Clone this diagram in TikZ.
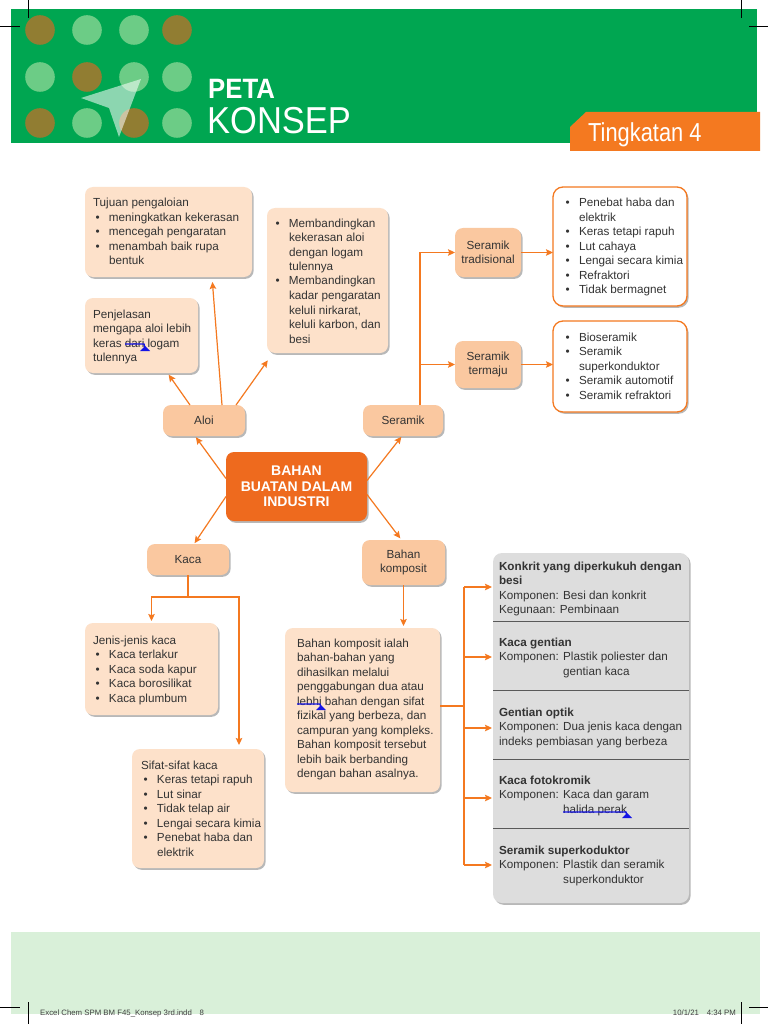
\documentclass[tikz,border=0pt]{standalone}
\usepackage{fontspec}
\setmainfont{Liberation Sans}
\usetikzlibrary{shadows,arrows.meta,calc}
\definecolor{bandG}{HTML}{00A651}
\definecolor{dotB}{HTML}{917D32}
\definecolor{dotG}{HTML}{6CCC86}
\definecolor{orangeL}{HTML}{F47920}
\definecolor{orangeD}{HTML}{EE6A1E}
\definecolor{peachL}{HTML}{FDE1CA}
\definecolor{peachD}{HTML}{FAC8A0}
\definecolor{greyT}{HTML}{DDDDDD}
\definecolor{txtgray}{HTML}{333333}
\definecolor{footG}{HTML}{D9F0D9}
\definecolor{markB}{HTML}{1414E6}
\newcommand\itm{\par\noindent\makebox[16pt][l]{\hspace{2.5pt}\textbullet}}
\newcommand\cl{\\\hspace*{16pt}}
\newcommand\ph{\phantom{Komponen: }}
\tikzset{
  pbox/.style={fill=peachL, rounded corners=8pt, inner sep=0pt, outer sep=0pt,
    drop shadow={shadow xshift=1.6pt, shadow yshift=-1.8pt, opacity=0.28, fill=black}},
  sbox/.style={pbox, fill=peachD, text=txtgray, align=center,
    font=\fontsize{11.7}{14.5}\selectfont},
  lbox/.style={pbox, fill=white, draw=orangeL, line width=1.3pt, rounded corners=10pt},
  cbox/.style={pbox, fill=orangeD, text=white, align=center,
    font=\fontsize{14}{15.5}\selectfont\bfseries},
  tbox/.style={pbox, fill=greyT, rounded corners=9pt},
  txt/.style={anchor=base west, inner sep=0pt, outer sep=0pt, text=txtgray,
    font=\fontsize{11.7}{14.5}\selectfont},
  ln/.style={draw=orangeL, line width=1.2pt},
  arr/.style={ln, -{Stealth[length=7pt,width=6.5pt,inset=1.2pt]}},
  divider/.style={draw=black!65, line width=1pt},
  crop/.style={draw=black, line width=0.6pt},
  proofmark/.style={draw=markB, line width=1.4pt},
}
\begin{document}
\begin{tikzpicture}[x=1pt,y=-1pt]
\useasboundingbox (0,0) rectangle (768,1024);
\fill[white] (0,0) rectangle (768,1024);

% ---------- header ----------
\fill[bandG] (11,9) rectangle (757,143);
\foreach \x/\y/\c in {40/30/dotB,87/30/dotG,134/30/dotG,177/30/dotB,
                      40/77/dotG,87/77/dotB,134/77/dotG,177/77/dotG,
                      40/123/dotB,87/123/dotG,134/123/dotB,177/123/dotG}
  \fill[\c] (\x,\y) circle[radius=14.8];
\fill[white, opacity=0.55] (81,98) -- (141,79) -- (119,137) -- (109,108) -- cycle;
\node[anchor=base west, inner sep=0pt, text=white, font=\fontsize{28}{28}\selectfont\bfseries]
  (peta) at (208,99) {\scalebox{0.92}[1]{PETA}};
\node[anchor=base west, inner sep=0pt, text=white, font=\fontsize{37.5}{37.5}\selectfont]
  (konsep) at (207,134) {\scalebox{0.92}[1]{KONSEP}};
\fill[orangeL] (586,112) -- (760,112) -- (760,151) -- (570,151) -- (570,127) -- cycle;
\node[anchor=base west, inner sep=0pt, text=white, font=\fontsize{26}{26}\selectfont]
  (tingkatan) at (588,142) {\scalebox{0.84}[1]{Tingkatan 4}};

% crop marks
\draw[crop] (28,0) -- (28,18);
\draw[crop] (0,26) -- (20,26);
\draw[crop] (741,0) -- (741,18);
\draw[crop] (749,26) -- (768,26);

% ---------- footer ----------
\fill[footG] (11,932) rectangle (760,1014);
\draw[crop] (0,1007) -- (20,1007);
\draw[crop] (28,1002) -- (28,1024);
\draw[crop] (749,1007) -- (768,1007);
\draw[crop] (741,1002) -- (741,1024);
\node[anchor=base west, inner sep=0pt, text=black!75, font=\fontsize{7.8}{8}\selectfont]
  (foot1) at (40,1015) {Excel Chem SPM BM F45\_Konsep 3rd.indd\quad 8};
\node[anchor=base east, inner sep=0pt, text=black!75, font=\fontsize{7.8}{8}\selectfont]
  (foot2) at (736,1015) {10/1/21\quad 4:34 PM};

% ---------- boxes ----------
\node[pbox, minimum width=167, minimum height=90] (tujuan) at (168.5,232) {};
\node[pbox, minimum width=113, minimum height=75] (penj) at (141.5,335.5) {};
\node[pbox, minimum width=121, minimum height=145] (memb) at (327.5,280.5) {};
\node[sbox, minimum width=82, minimum height=31] (aloi) at (204,420.5) {Aloi};
\node[sbox, minimum width=80, minimum height=31] (seramik) at (403,420.5) {Seramik};
\node[cbox, minimum width=141, minimum height=69] (central) at (296.5,486.5) {BAHAN\\BUATAN DALAM\\INDUSTRI};
\node[sbox, minimum width=82, minimum height=31] (kaca) at (188,559.5) {Kaca};
\node[sbox, minimum width=83, minimum height=45] (komp) at (403.5,562.5) {Bahan\\komposit};
\node[pbox, minimum width=133, minimum height=92] (jenis) at (151.5,669) {};
\node[pbox, minimum width=132, minimum height=119] (sifat) at (198,808.5) {};
\node[pbox, minimum width=155, minimum height=164] (desc) at (362.5,710) {};
\node[tbox, minimum width=196, minimum height=350] (tbl) at (591,728) {};
\node[sbox, minimum width=66, minimum height=49] (sertrad) at (488,252.5) {Seramik\\tradisional};
\node[sbox, minimum width=66, minimum height=47] (serterm) at (488,364.5) {Seramik\\termaju};
\node[lbox, minimum width=134, minimum height=119] (list1) at (620,246.5) {};
\node[lbox, minimum width=134, minimum height=91] (list2) at (620,366.5) {};

% table dividers
\foreach \yy in {621,690,759,828} \draw[divider] (493,\yy) -- (689,\yy);

% ---------- texts ----------
\node[txt] (tujuanT) at (93,207) {\parbox[t]{200pt}{\raggedright
  Tujuan pengaloian\itm meningkatkan kekerasan\itm mencegah pengaratan\itm menambah baik rupa\cl bentuk}};
\node[txt] (penjT) at (93,318) {\parbox[t]{200pt}{\raggedright
  Penjelasan\\mengapa aloi lebih\\keras dari logam\\tulennya}};
\node[txt] (membT) at (273,227) {\parbox[t]{200pt}{\raggedright
  \itm Membandingkan\cl kekerasan aloi\cl dengan logam\cl tulennya\itm Membandingkan\cl kadar pengaratan\cl keluli nirkarat,\cl keluli karbon, dan\cl besi}};
\node[txt] (list1T) at (563,207) {\parbox[t]{200pt}{\raggedright
  \itm Penebat haba dan\cl elektrik\itm Keras tetapi rapuh\itm Lut cahaya\itm Lengai secara kimia\itm Refraktori\itm Tidak bermagnet}};
\node[txt] (list2T) at (563,341) {\parbox[t]{200pt}{\raggedright
  \itm Bioseramik\itm Seramik\cl superkonduktor\itm Seramik automotif\itm Seramik refraktori}};
\node[txt] (jenisT) at (93,644) {\parbox[t]{200pt}{\raggedright
  Jenis-jenis kaca\itm Kaca terlakur\itm Kaca soda kapur\itm Kaca borosilikat\itm Kaca plumbum}};
\node[txt] (sifatT) at (141,769) {\parbox[t]{200pt}{\raggedright
  Sifat-sifat kaca\itm Keras tetapi rapuh\itm Lut sinar\itm Tidak telap air\itm Lengai secara kimia\itm Penebat haba dan\cl elektrik}};
\node[txt] (descT) at (297,647) {\parbox[t]{200pt}{\raggedright
  Bahan komposit ialah\\bahan-bahan yang\\dihasilkan melalui\\penggabungan dua atau\\lebhi bahan dengan sifat\\fizikal yang berbeza, dan\\campuran yang kompleks.\\Bahan komposit tersebut\\lebih baik berbanding\\dengan bahan asalnya.}};
\node[txt] (row1T) at (499,570) {\parbox[t]{200pt}{\raggedright
  \textbf{Konkrit yang diperkukuh dengan}\\\textbf{besi}\\Komponen: Besi dan konkrit\\Kegunaan: Pembinaan}};
\node[txt] (row2T) at (499,646) {\parbox[t]{200pt}{\raggedright
  \textbf{Kaca gentian}\\Komponen: Plastik poliester dan\\\ph gentian kaca}};
\node[txt] (row3T) at (499,716) {\parbox[t]{200pt}{\raggedright
  \textbf{Gentian optik}\\Komponen: Dua jenis kaca dengan\\indeks pembiasan yang berbeza}};
\node[txt] (row4T) at (499,784) {\parbox[t]{200pt}{\raggedright
  \textbf{Kaca fotokromik}\\Komponen: Kaca dan garam\\\ph halida perak}};
\node[txt] (row5T) at (499,854) {\parbox[t]{200pt}{\raggedright
  \textbf{Seramik superkoduktor}\\Komponen: Plastik dan seramik\\\ph superkonduktor}};

% ---------- connectors ----------
\draw[arr, shorten >=1.5pt] ([yshift=8pt]central.west) -- ([xshift=-9pt]aloi.south);
\draw[arr, shorten >=1pt] ([yshift=6pt]central.east) -- ([xshift=-1pt]seramik.south);
\draw[arr, shorten >=1pt] ([yshift=-10pt]central.west) -- ([xshift=6pt]kaca.north);
\draw[arr, shorten >=2pt] ([yshift=-8pt]central.east) -- ([xshift=-2pt]komp.north);

\draw[arr, shorten >=2pt] ([xshift=-14pt]aloi.north) -- ([xshift=26pt]penj.south);
\draw[arr, shorten >=5pt] ([xshift=18pt]aloi.north) -- ([xshift=43.5pt]tujuan.south);
\draw[arr, shorten >=9pt] ([xshift=32pt]aloi.north) -- ([xshift=-54.5pt]memb.south);

\draw[arr] ([xshift=17pt]seramik.north) |- (sertrad.west);
\draw[arr] ([xshift=17pt]seramik.north) |- (serterm.west);
\draw[arr] (sertrad.east) -- (sertrad.east -| list1.west);
\draw[arr] (serterm.east) -- (serterm.east -| list2.west);

\draw[ln] (kaca.south) -- ++(0,22) coordinate (kb);
\coordinate (sifin) at ([xshift=41pt]sifat.north);
\draw[arr, shorten >=2pt] (kb) -| (jenis.north);
\draw[arr, shorten >=4pt] (kb) -| (sifin);

\draw[arr, shorten >=2pt] (komp.south) -- (komp.south |- desc.north);

\coordinate (bus) at (464,706);
\coordinate (r1) at (493,587);
\coordinate (r2) at (493,657);
\coordinate (r3) at (493,728);
\coordinate (r4) at (493,798);
\coordinate (r5) at (493,865);
\draw[ln] (desc.east |- bus) -- (bus);
\draw[ln] (bus |- r1) -- (bus |- r5);
\foreach \r in {r1,r2,r3,r4,r5} \draw[arr, shorten >=1pt] (bus |- \r) -- (\r);

% ---------- proofreading marks ----------
\draw[proofmark] (125,344) -- (144,344) -- (145,348);
\fill[markB] (140,351) -- (150,351) -- (145,346) -- cycle;
\draw[proofmark] (297,704) -- (320,704) -- (321,708);
\fill[markB] (316,710) -- (326,710) -- (321,705) -- cycle;
\draw[proofmark] (563,812) -- (626,812) -- (627,816);
\fill[markB] (622,818) -- (632,818) -- (627,813) -- cycle;
\end{tikzpicture}
\end{document}
